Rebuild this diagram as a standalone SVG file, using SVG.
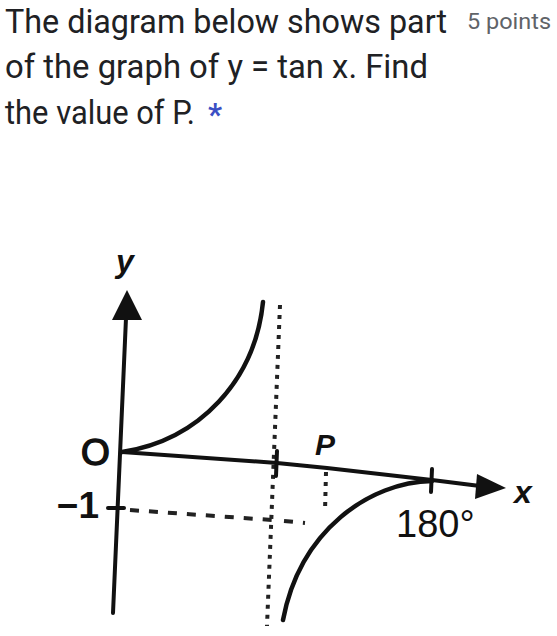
<svg xmlns="http://www.w3.org/2000/svg" width="557" height="636" viewBox="0 0 557 636">
<style>
.q{font-family:Roboto,"Liberation Sans",sans-serif;font-size:33px;fill:#202124}
.req{font-family:Roboto,"Liberation Sans",sans-serif;font-size:31px;font-weight:bold;fill:#3b4fc4}
.pts{font-family:Roboto,"Liberation Sans",sans-serif;font-size:22px;fill:#5f6368}
.ax{stroke:#111;stroke-width:4;fill:none;stroke-linecap:round}
.cv{stroke:#111;stroke-width:4.5;fill:none;stroke-linecap:round}
.dot{stroke:#222;stroke-width:4;fill:none;stroke-dasharray:4 6}
.dash{stroke:#222;stroke-width:4;fill:none;stroke-dasharray:9 10}
.lbl{font-family:"Liberation Sans",Arial,sans-serif;fill:#111}
</style>
<rect width="557" height="636" fill="#fff"/>
<g id="question">
<text class="q" x="5" y="33" textLength="442" lengthAdjust="spacingAndGlyphs">The diagram below shows part</text>
<text class="pts" x="467" y="29" textLength="84" lengthAdjust="spacingAndGlyphs">5 points</text>
<text class="q" x="5" y="78" textLength="423" lengthAdjust="spacingAndGlyphs">of the graph of y = tan x. Find</text>
<text class="q" x="5" y="124" textLength="190" lengthAdjust="spacingAndGlyphs">the value of P.</text>
<text class="req" x="208" y="125">*</text>
</g>
<g id="connectors">
<path class="ax" d="M126,318 L113,613"/>
<polygon points="127,290 112,320 142,320" fill="#111"/>
<path class="ax" d="M122,452 L277,463 L327,468 L432,480 L480,486"/>
<polygon points="506,488 477,474 475,499" fill="#111"/>
<path class="dot" d="M280,305 L267,626"/>
<path class="ax" d="M277,451 L276,476"/>
<path class="ax" d="M432,469 L431,492"/>
<path class="ax" d="M108,508 L124,508"/>
<path class="dash" d="M130,510 L272,520"/>
<path class="dash" d="M284,521 L305,523"/>
<path class="dot" d="M326,472 L325,512"/>
<path class="cv" d="M122,452 C200,440 255,380 263,302"/>
<path class="cv" d="M432,481 C370,482 300,530 283,620"/>
</g>
<g id="labels">
<text class="lbl" x="116" y="272" font-size="32" font-style="italic" font-weight="bold">y</text>
<text class="lbl" x="81" y="465" font-size="37" stroke="#111" stroke-width="1.5">O</text>
<text class="lbl" x="99" y="518" font-size="37" font-weight="bold" text-anchor="end">−1</text>
<text class="lbl" x="315" y="455" font-size="30" font-style="italic" font-weight="bold">P</text>
<text class="lbl" x="396" y="537" font-size="38" fill="#333">180°</text>
<text class="lbl" x="514" y="503" font-size="32" font-style="italic" font-weight="bold">x</text>
</g>
</svg>
